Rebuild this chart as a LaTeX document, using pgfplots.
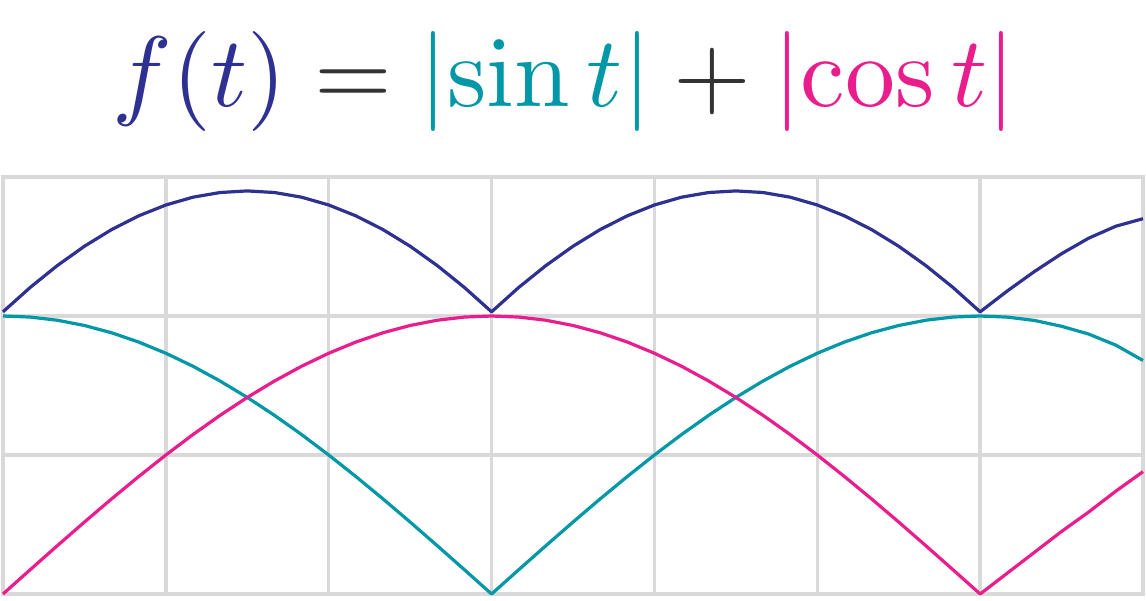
\documentclass[border=0pt]{standalone}
\usepackage{pgfplots}
\usepackage{pgfplotstable}
\pgfplotsset{compat=1.18}
\definecolor{cblue}{HTML}{2E3192}
\definecolor{cteal}{HTML}{0097A7}
\definecolor{cmag}{HTML}{E91E8C}
\definecolor{cgray}{HTML}{333333}
\definecolor{cgrid}{HTML}{D9D9D9}
\pgfplotstableread{
deg s c f
0 0 1 1.015
5 0.0872 0.9962 1.1026
10 0.1736 0.9848 1.1813
15 0.2588 0.9659 1.2509
20 0.3420 0.9397 1.3108
25 0.4226 0.9063 1.3603
30 0.5000 0.8660 1.3993
35 0.5736 0.8192 1.4274
40 0.6428 0.7660 1.4442
45 0.7071 0.7071 1.4499
50 0.7660 0.6428 1.4442
55 0.8192 0.5736 1.4274
60 0.8660 0.5000 1.3993
65 0.9063 0.4226 1.3603
70 0.9397 0.3420 1.3108
75 0.9659 0.2588 1.2509
80 0.9848 0.1736 1.1813
85 0.9962 0.0872 1.1026
90 1 0 1.015
95 0.9962 0.0872 1.1026
100 0.9848 0.1736 1.1813
105 0.9659 0.2588 1.2509
110 0.9397 0.3420 1.3108
115 0.9063 0.4226 1.3603
120 0.8660 0.5000 1.3993
125 0.8192 0.5736 1.4274
130 0.7660 0.6428 1.4442
135 0.7071 0.7071 1.4499
140 0.6428 0.7660 1.4442
145 0.5736 0.8192 1.4274
150 0.5000 0.8660 1.3993
155 0.4226 0.9063 1.3603
160 0.3420 0.9397 1.3108
165 0.2588 0.9659 1.2509
170 0.1736 0.9848 1.1813
175 0.0872 0.9962 1.1026
180 0 1 1.015
185 0.075 0.996 1.0900
190 0.150 0.984 1.1600
195 0.225 0.963 1.2240
200 0.295 0.935 1.2800
205 0.370 0.895 1.3230
210 0.440 0.840 1.3500
}\data
\begin{document}
\begin{tikzpicture}
\useasboundingbox (0,0) rectangle (573pt,300pt);
\begin{axis}[
  at={(1.5pt,3pt)}, anchor=south west,
  scale only axis, width=570pt, height=208.5pt,
  xmin=0, xmax=210, ymin=0, ymax=1.5,
  xtick={0,30,...,210}, ytick={0,0.5,1,1.5},
  xticklabels={}, yticklabels={},
  major tick length=0pt,
  grid=major,
  major grid style={draw=cgrid, line width=1.7pt},
  axis line style={draw=cgrid, line width=1.7pt},
  clip=false,
  every axis plot/.append style={line width=1.6pt, line join=round},
]
\addplot[cteal, no markers] table[x=deg, y=c] {\data};
\addplot[cmag, no markers] table[x=deg, y=s] {\data};
\addplot[cblue, no markers] table[x=deg, y=f] {\data};
\end{axis}
\node[anchor=base, inner sep=0pt, scale=5] at (282pt,246.5pt)
  {\normalsize$\color{cblue}f(t)\color{cgray}=\color{cteal}\left|\sin t\right|\color{cgray}+\color{cmag}\left|\cos t\right|$};
\end{tikzpicture}
\end{document}
